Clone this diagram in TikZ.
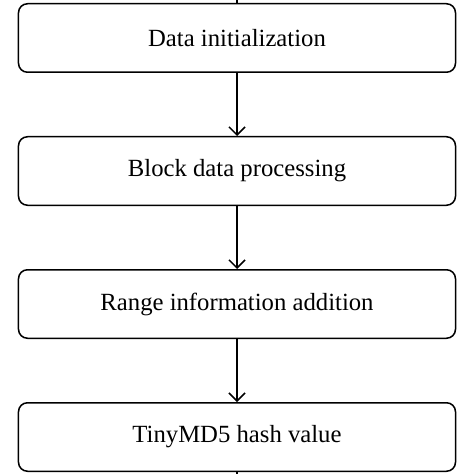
\documentclass[tikz,border=0pt]{standalone}
\usepackage{fontspec}
\setmainfont{Liberation Serif}
\usetikzlibrary{positioning,arrows.meta}

\begin{document}
\begin{tikzpicture}[x=1bp,y=1bp,node distance=63bp,line width=1.5bp,
		proc node/.style = {rectangle,rounded corners=9bp,draw,minimum width=437bp,minimum height=68.5bp,inner sep=0pt,font=\fontsize{24.8}{29}\selectfont},
		flow/.style = {-{Straight Barb[length=8bp,width=16bp]}}]
		\useasboundingbox (0,0) rectangle (474,-474);
		
		\node[proc node] (1) at (237,-38) {Data initialization};
		\node[proc node] [below = of 1] (2) {Block data processing};
		\node[proc node] [below = of 2] (3) {Range information addition};
		\node[proc node] [below = of 3] (4) {TinyMD5 hash value};
		\coordinate (in) at (1.north |- 0,0);
		\coordinate (out) at (4.south |- 0,-474);
		
		\draw (in)--(1.north);
		\draw[flow] (1)--(2);
		\draw[flow] (2)--(3);
		\draw[flow] (3)--(4);
		\draw (4.south)--(out);
		\end{tikzpicture}
\end{document}
